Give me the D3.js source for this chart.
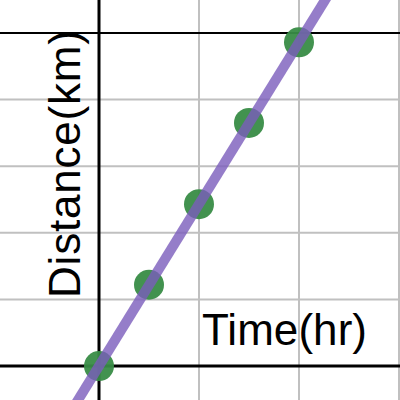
<!DOCTYPE html><html><head><script src="https://d3js.org/d3.v7.min.js"></script>
<style>body{margin:0}</style></head><body><svg id="c" width="400" height="400"></svg>
<script>
const times=[0,0.5,1,1.5,2];
const distances=[0,1.22,2.43,3.65,4.86];
const slope=2.43;
const xGrid=[-1,0,1,2,3];
const yGrid=[0,1,2,3,4,5];
const svg=d3.select('#c');
const x=d3.scaleLinear().domain([-0.99,3.01]).range([0,400]);
const y=d3.scaleLinear().domain([-0.51,5.495]).range([400,0]);
svg.append('rect').attr('width',400).attr('height',400).attr('fill','#fff');
svg.selectAll('.vg').data(xGrid.filter(d=>d!==0)).enter().append('line').attr('x1',d=>x(d)).attr('x2',d=>x(d)).attr('y1',0).attr('y2',400).attr('stroke','#c0c0c0').attr('stroke-width',2);
svg.selectAll('.hg').data(yGrid.filter(d=>d!==0&&d!==5)).enter().append('line').attr('y1',d=>y(d)).attr('y2',d=>y(d)).attr('x1',0).attr('x2',400).attr('stroke','#c0c0c0').attr('stroke-width',2);
svg.append('line').attr('y1',y(5)).attr('y2',y(5)).attr('x1',0).attr('x2',400).attr('stroke','#000').attr('stroke-width',2);
svg.append('line').attr('x1',x(0)).attr('x2',x(0)).attr('y1',0).attr('y2',400).attr('stroke','#000').attr('stroke-width',3);
svg.append('line').attr('y1',y(0)).attr('y2',y(0)).attr('x1',0).attr('x2',400).attr('stroke','#000').attr('stroke-width',3);
svg.append('text').attr('x',x(1.03)).attr('y',345).attr('font-family','Liberation Sans, Arial').attr('font-size',44).attr('textLength',165).text('Time(hr)');
svg.append('text').attr('transform','translate(80,298) rotate(-90)').attr('font-family','Liberation Sans, Arial').attr('font-size',44).attr('textLength',268).text('Distance(km)');
svg.selectAll('.p').data(times).enter().append('circle').attr('cx',d=>x(d)).attr('cy',(d,i)=>y(distances[i])).attr('r',15).attr('fill','#388c46').attr('fill-opacity',0.95);
svg.append('line').attr('x1',x(-0.3)).attr('y1',y(-0.3*slope)).attr('x2',x(2.4)).attr('y2',y(2.4*slope)).attr('stroke','#7a5cbb').attr('stroke-opacity',0.8).attr('stroke-width',10);
</script></body></html>
